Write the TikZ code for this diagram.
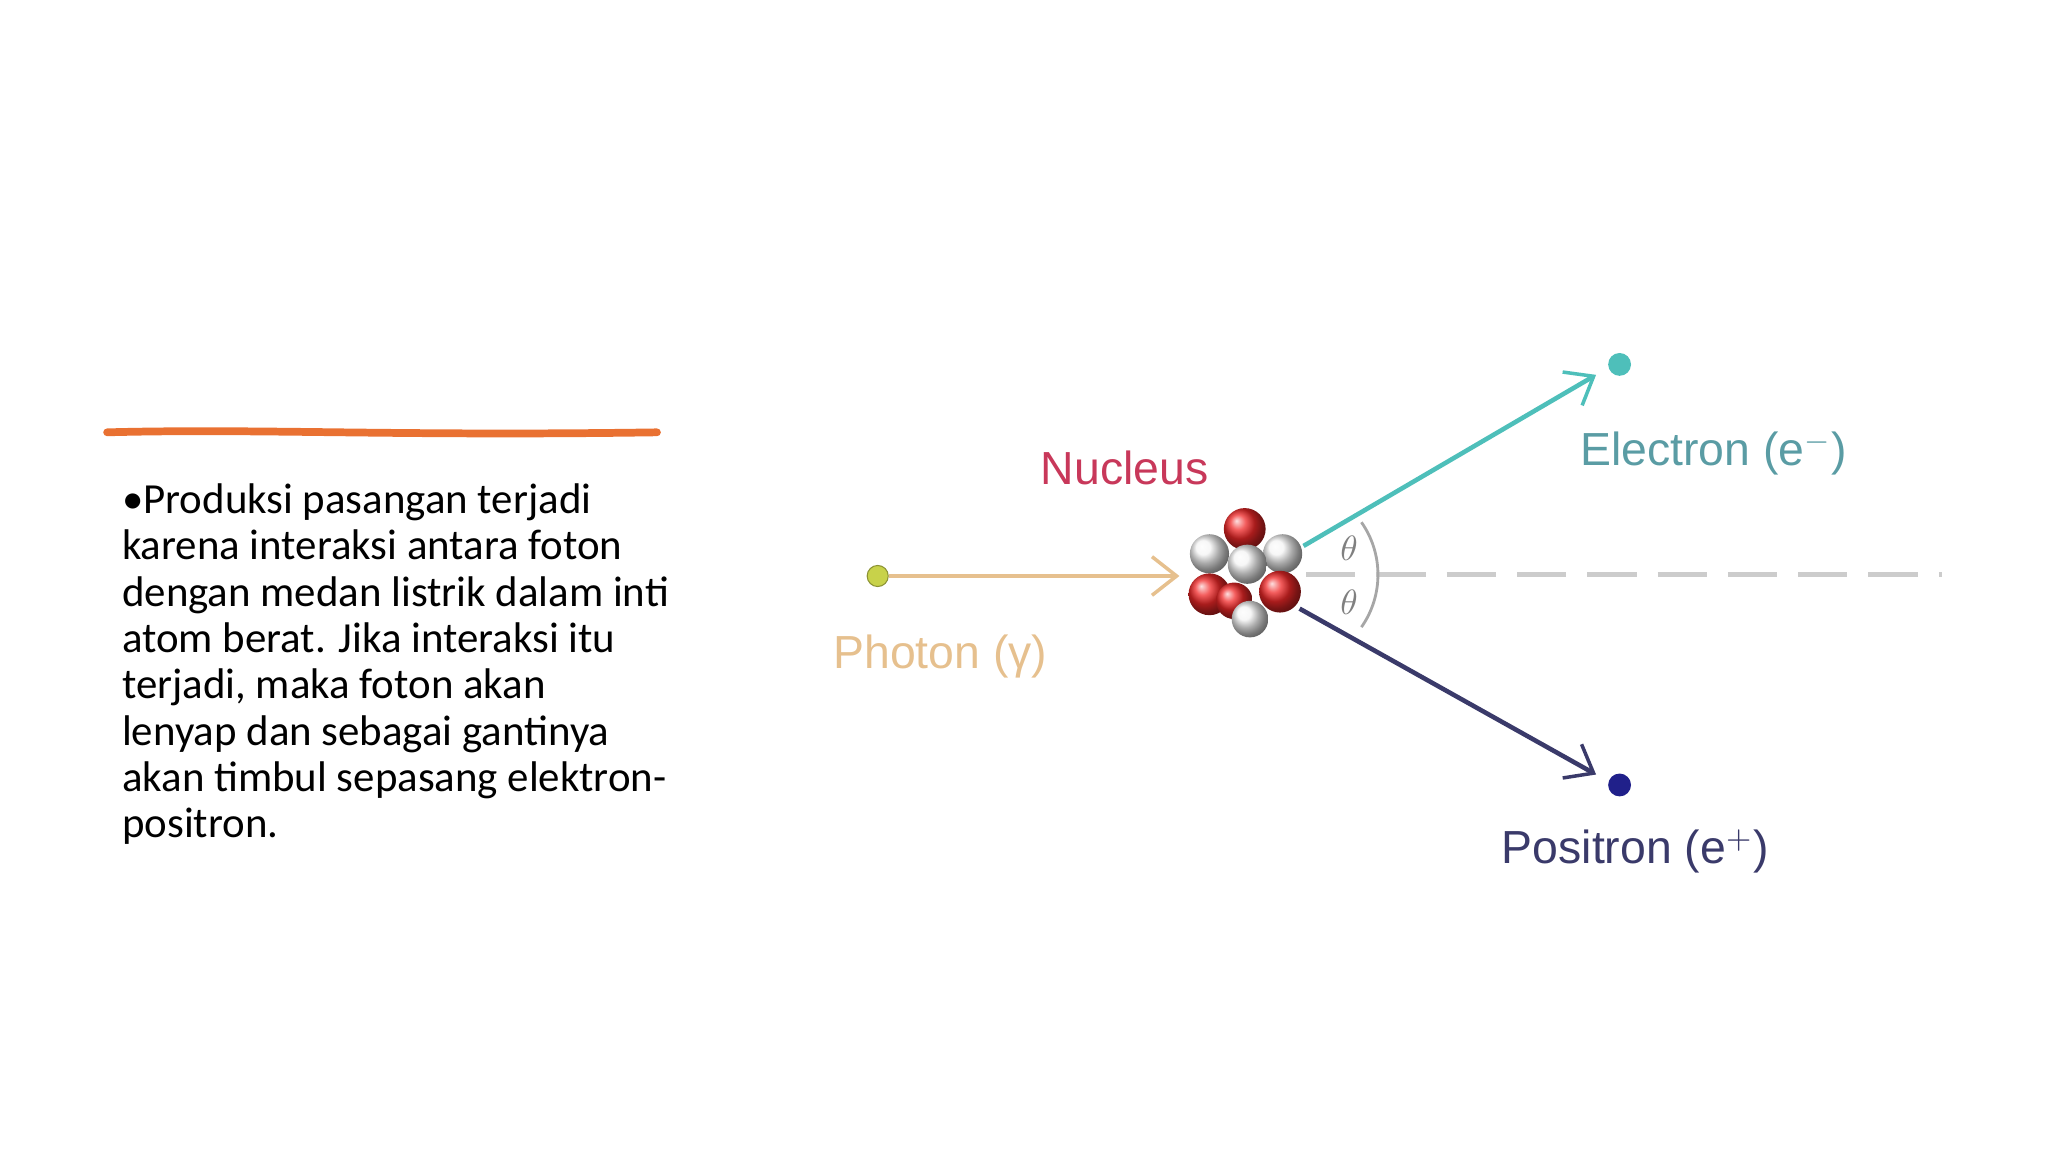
\documentclass[tikz,border=0pt]{standalone}
\usepackage{fontspec}
\setmainfont{Carlito}
\newfontfamily\lab{Liberation Sans}
\usetikzlibrary{arrows.meta}
\definecolor{orng}{HTML}{E97132}
\definecolor{tan}{HTML}{E6C08E}
\definecolor{pho}{HTML}{C8D24A}
\definecolor{nuc}{HTML}{C8385A}
\definecolor{tealc}{HTML}{4EBFBA}
\definecolor{tealt}{HTML}{5A9CA4}
\definecolor{navy}{HTML}{3A3A6A}
\definecolor{navyd}{HTML}{20208A}
\definecolor{ballr}{HTML}{F02828}
\definecolor{ballw}{HTML}{F4F4F4}
\tikzset{
 body/.style={anchor=base west,font=\fontsize{12.2}{13}\selectfont,inner sep=0},
 lbl/.style={font=\lab\fontsize{13.2}{15}\selectfont,inner sep=0},
 tip/.style={-{Straight Barb[length=7pt,width=11pt,line width=1pt]}},
 red/.style={ball color=ballr,draw=none},
 wht/.style={ball color=ballw,draw=none}
}
\begin{document}
\begin{tikzpicture}[x=0.013061cm,y=-0.013061cm]
\useasboundingbox (0,0) rectangle (1568,882);
\draw[orng,line width=2.2pt,line cap=round] (82,331) .. controls (200,328) and (300,334) .. (503,331);
\node[body] at (93,393) {\textbullet Produksi pasangan terjadi};
\node[body] at (93,428.5) {karena interaksi antara foton};
\node[body] at (93,464) {dengan medan listrik dalam inti};
\node[body] at (93,499.5) {atom berat. Jika interaksi itu};
\node[body] at (93,535) {terjadi, maka foton akan};
\node[body] at (93,570.5) {lenyap dan sebagai gantinya};
\node[body] at (93,606) {akan timbul sepasang elektron-};
\node[body] at (93,641.5) {positron.};
% dashed axis
\draw[gray!40,line width=1.3pt,dash pattern=on 14pt off 6pt] (1000,440) -- (1487,440);
% angle arc
\coordinate (c) at (985,440);
\draw[gray!70,line width=0.8pt] ([shift={(-35:70)}]c) arc[start angle=-35,end angle=35,radius=70];
\node[font=\fontsize{10}{10}\selectfont,gray] (t1) at (1033,420) {$\theta$};
\node[font=\fontsize{10}{10}\selectfont,gray] (t2) at (1033,461) {$\theta$};
% photon
\node[circle,fill=pho,draw=pho!70!black,line width=0.3pt,inner sep=0,minimum size=6pt] (pd) at (672,441) {};
\coordinate (pe) at (903,441);
\draw[tan,line width=1.3pt,tip] (pd) -- (pe);
\node[lbl,text=tan] (pl) at (720,503) {Photon (γ)};
% nucleus
\node[lbl,text=nuc] (nl) at (861,358) {Nucleus};
\coordinate (nuc) at (953,440);
\shade[wht] (926,424) circle (15);
\shade[wht] (982,424) circle (15);
\shade[red] (953,405) circle (16);
\shade[wht] (955,432) circle (15);
\shade[red] (980,453) circle (16);
\shade[red] (926,455) circle (16);
\shade[red] (945,460) circle (14);
\shade[wht] (957,474) circle (14);
% electron
\coordinate (es) at (998,418);
\node[circle,fill=tealc,inner sep=0,minimum size=6.5pt] (ed) at (1240,279) {};
\draw[tealc,line width=1.3pt,tip] (es) -- (1222,287);
\node[lbl,text=tealt] (el) at (1312,347) {Electron (e$^{-}$)};
% positron
\coordinate (ps) at (995,466);
\node[circle,fill=navyd,inner sep=0,minimum size=6.5pt] (pod) at (1240,601) {};
\draw[navy,line width=1.3pt,tip] (ps) -- (1222,593);
\node[lbl,text=navy] (pol) at (1252,652) {Positron (e$^{+}$)};
\end{tikzpicture}
\end{document}
